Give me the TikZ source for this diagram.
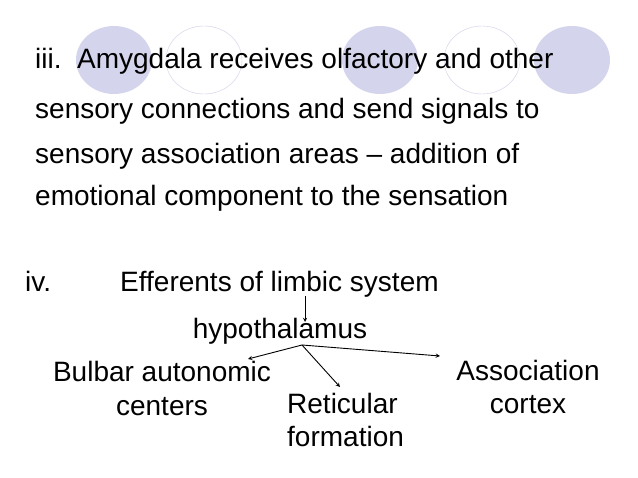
\documentclass[tikz,border=0pt]{standalone}
\usepackage{fontspec}
\setmainfont{Liberation Sans}
\definecolor{lav}{RGB}{212,212,236}
\definecolor{lavline}{RGB}{205,205,232}
\begin{document}
\begin{tikzpicture}[x=1pt,y=-1pt,
  txt/.style={anchor=base west,inner sep=0pt,font=\fontsize{28}{32}\selectfont},
  mid/.style={anchor=base,inner sep=0pt,font=\fontsize{28}{32}\selectfont},
  arr/.style={->,>=stealth,line width=0.9pt}]
  \useasboundingbox (0,0) rectangle (638,478);
  % circles
  \fill[lav] (114,60) ellipse (38 and 34);
  \draw[lavline] (204,60) ellipse (38 and 34);
  \fill[lav] (380,60) ellipse (38 and 34);
  \draw[lavline] (482,60) ellipse (38 and 34);
  \fill[lav] (572,60) ellipse (38 and 34);
  % text block
  \node[txt] (l1) at (35,69) {iii.\ \ Amygdala receives olfactory and other};
  \node[txt] (l2) at (35,119) {sensory connections and send signals to};
  \node[txt] (l3) at (35,164) {sensory association areas -- addition of};
  \node[txt] (l4) at (35,206) {emotional component to the sensation};
  \node[txt] (iv) at (25,292) {iv.};
  \node[txt] (eff) at (120,292) {Efferents of limbic system};
  \node[mid] (hypo) at (280,339) {hypothalamus};
  \node[mid] (bulb) at (162,382) {Bulbar autonomic};
  \node[mid] (bulb2) at (162,416) {centers};
  \node[txt] (ret) at (287,414) {Reticular};
  \node[txt] (ret2) at (287,447) {formation};
  \node[mid] (assoc) at (528,381) {Association};
  \node[mid] (assoc2) at (528,414) {cortex};
  % arrows
  \coordinate (effb) at (305,296);
  \coordinate (hypot) at (305,322);
  \coordinate (hypob) at (302,345);
  \coordinate (bulbt) at (248,359);
  \coordinate (rett) at (340,387);
  \coordinate (assocl) at (440,356);
  \draw[arr] (effb) -- (hypot);
  \draw[arr] (hypob) -- (bulbt);
  \draw[arr] (hypob) -- (rett);
  \draw[arr] (hypob) -- (assocl);
\end{tikzpicture}
\end{document}
